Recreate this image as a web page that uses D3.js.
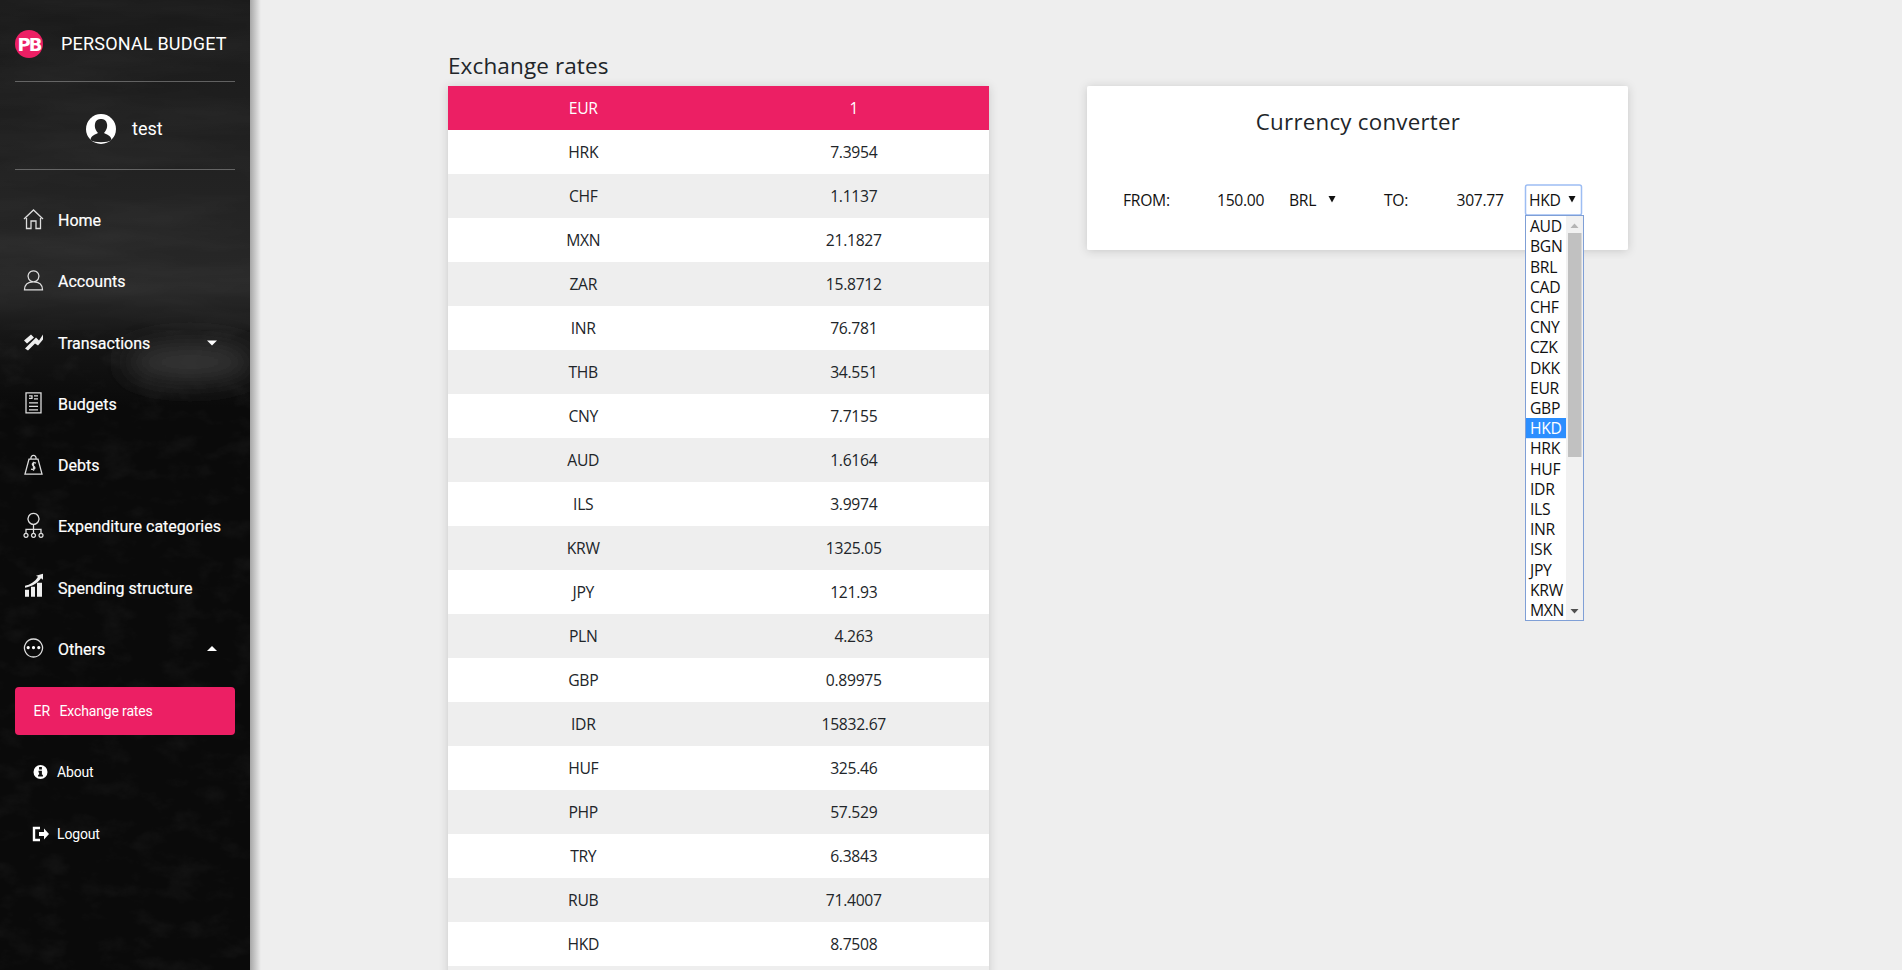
<!DOCTYPE html>
<html><head><meta charset="utf-8">
<script src="https://cdnjs.cloudflare.com/ajax/libs/d3/7.8.5/d3.min.js"></script>
<style>
html,body{margin:0;padding:0;background:#eee;overflow:hidden}
svg{display:block}
.side{font-family:Roboto,sans-serif;fill:#fff}
.main{font-family:"Open Sans",sans-serif;fill:#212529}
.t16{font-size:15.7px;letter-spacing:-.3px}
</style></head><body>
<svg id="c" width="1902" height="970"></svg>
<script>
const currencies=["EUR","HRK","CHF","MXN","ZAR","INR","THB","CNY","AUD","ILS","KRW","JPY","PLN","GBP","IDR","HUF","PHP","TRY","RUB","HKD"];
const rates=["1","7.3954","1.1137","21.1827","15.8712","76.781","34.551","7.7155","1.6164","3.9974","1325.05","121.93","4.263","0.89975","15832.67","325.46","57.529","6.3843","71.4007","8.7508"];
const options=["AUD","BGN","BRL","CAD","CHF","CNY","CZK","DKK","EUR","GBP","HKD","HRK","HUF","IDR","ILS","INR","ISK","JPY","KRW","MXN"];
const menuItems=["Home","Accounts","Transactions","Budgets","Debts","Expenditure categories","Spending structure","Others"];
const subItems=["Exchange rates","About","Logout"];
const converter={from:"FROM:",amount:"150.00",fromCur:"BRL",to:"TO:",result:"307.77",toCur:"HKD"};
const PINK="#ec1f64";

const svg=d3.select("#c");
const defs=svg.append("defs");
const grad=defs.append("linearGradient").attr("id","sb").attr("x1",0).attr("y1",0).attr("x2",0).attr("y2",1);
[[0,"#1a1a1a"],[.12,"#1f1f1f"],[.3,"#282828"],[.345,"#161616"],[.42,"#0a0a0a"],[1,"#0a0a0a"]].forEach(s=>grad.append("stop").attr("offset",s[0]).attr("stop-color",s[1]));
const sg=defs.append("linearGradient").attr("id","ss");
sg.append("stop").attr("offset",0).attr("stop-color","#000").attr("stop-opacity",.3);
sg.append("stop").attr("offset",1).attr("stop-color","#000").attr("stop-opacity",0);
const tex=defs.append("filter").attr("id","tex").attr("x",0).attr("y",0).attr("width","100%").attr("height","100%");
tex.append("feTurbulence").attr("type","fractalNoise").attr("baseFrequency","0.005 0.03").attr("numOctaves",4).attr("seed",7);
tex.append("feColorMatrix").attr("values","0 0 0 0 1  0 0 0 0 1  0 0 0 0 1  0.55 0 0 0 -0.2");
const tex2=defs.append("filter").attr("id","tex2").attr("x",0).attr("y",0).attr("width","100%").attr("height","100%");
tex2.append("feTurbulence").attr("type","fractalNoise").attr("baseFrequency","0.03 0.05").attr("numOctaves",5).attr("seed",3);
tex2.append("feColorMatrix").attr("values","0 0 0 0 1  0 0 0 0 1  0 0 0 0 1  0.6 0 0 0 -0.28");
defs.append("filter").attr("id","blur").attr("x","-50%").attr("y","-100%").attr("width","200%").attr("height","300%").append("feGaussianBlur").attr("stdDeviation",14);
const ds=defs.append("filter").attr("id","shadow").attr("x","-5%").attr("y","-5%").attr("width","110%").attr("height","110%");
ds.append("feDropShadow").attr("dx",0).attr("dy",1).attr("stdDeviation",5).attr("flood-color","#000").attr("flood-opacity",.16);
defs.append("clipPath").attr("id","sc").append("rect").attr("width",250).attr("height",970);

svg.append("rect").attr("width",1902).attr("height",970).attr("fill","#eeeeee");

/* ---------- sidebar ---------- */
const sb=svg.append("g");
sb.append("rect").attr("x",250).attr("width",11).attr("height",970).attr("fill","url(#ss)");
const bg=sb.append("g").attr("clip-path","url(#sc)");
bg.append("rect").attr("width",250).attr("height",970).attr("fill","url(#sb)");
bg.append("rect").attr("width",250).attr("height",330).attr("filter","url(#tex)").attr("opacity",.14);
bg.append("rect").attr("y",330).attr("width",250).attr("height",640).attr("filter","url(#tex2)").attr("opacity",.14);
bg.append("ellipse").attr("cx",190).attr("cy",362).attr("rx",65).attr("ry",18).attr("fill","#383838").attr("filter","url(#blur)");

const logoG=sb.append("g").attr("transform","translate(29,44)");
logoG.append("circle").attr("r",14).attr("fill",PINK);
logoG.append("text").attr("text-anchor","middle").attr("y",6.5).attr("font-family","DejaVu Sans").attr("font-size",18).attr("font-weight",700).attr("letter-spacing",-2).attr("fill","#fff").text("PB");
sb.append("text").attr("class","side").attr("x",61).attr("y",50).attr("font-size",18).attr("letter-spacing",.2).text("PERSONAL BUDGET");
sb.selectAll("line.hr").data([81,169]).join("line").attr("x1",15).attr("x2",235).attr("y1",d=>d+.5).attr("y2",d=>d+.5).attr("stroke","rgba(255,255,255,.3)");
const av=sb.append("g").attr("transform","translate(101,129)");
av.append("circle").attr("r",15).attr("fill","#fff");
av.append("path").attr("d","M-10.5,11 C-10,6 -5,5.5 -3,4 C-6,1 -6.5,-3 -6,-5 C-5.5,-9 -2.5,-10 0,-10 C2.5,-10 5.5,-9 6,-5 C6.5,-3 6,1 3,4 C5,5.5 10,6 10.5,11 C7,14 -7,14 -10.5,11Z").attr("fill","#222");
sb.append("text").attr("class","side").attr("x",132).attr("y",135).attr("font-size",18).text("test");

const menuY=d3.scalePoint().domain(menuItems).range([220,649]);
const menu=sb.selectAll("g.mi").data(menuItems).join("g").attr("class","mi").attr("transform",d=>`translate(0,${menuY(d)})`);
menu.append("text").attr("class","side").attr("x",58).attr("y",6).attr("font-size",16).attr("stroke","#fff").attr("stroke-width",.2).text(d=>d);
const icons={
 "Home":"M24,-1 L33.5,-10 L43,-1 M26.5,-2 V8.5 H31 V1 H36 V8.5 H40.5 V-2",
 "Accounts":"M33.5,-10.5 a5.5,5.5 0 1 1 -0.01,0 M24.5,8.5 C24.5,2 29,0.5 33.5,0.5 C38,0.5 42.5,2 42.5,8.5 Z",
 "Budgets":"M26,-11 H41 V9 H26 Z M29,-1 H38 M29,2.5 H38 M29,6 H38 M34,-8 H38 M34,-5 H38 M29,-8 H32 V-5.5 H29",
 "Debts":"M29,-6 H38 L42,9 H25 Z M31,-6 C30,-11 37,-11 36,-6 M36,-2 C33,-3.5 31,-1 33.5,1 C36,2.5 35,5 31,4 M33.5,-3.5 V5.5",
 "Expenditure categories":"M33.5,-13 a5.5,5.5 0 1 1 -0.01,0 M33.5,-2 V3 M26,7 V3 H41 V7 M33.5,3 V7 M26,7 a2,2 0 1 0 .01,0 M33.5,7 a2,2 0 1 0 .01,0 M41,7 a2,2 0 1 0 .01,0",
 "Others":"M33.5,-9 a9,9 0 1 1 -0.01,0"
};
menu.filter(d=>icons[d]).append("path").attr("d",d=>icons[d]).attr("transform",d=>d==="Others"?"translate(0,-1)":null).attr("fill","none").attr("stroke","#ddd").attr("stroke-width",1.3);
menu.filter(d=>d==="Others").append("path").attr("d","M28.2,-1 a1.6,1.6 0 1 0 .01,0 M33.5,-1 a1.6,1.6 0 1 0 .01,0 M38.8,-1 a1.6,1.6 0 1 0 .01,0").attr("transform","translate(0,-2)").attr("fill","#fff");
menu.filter(d=>d==="Transactions").append("path").attr("d","M24,-2 L31,-8 L34,-5 L27,1 Z M25,6 L36,-5 L39,-2 L43,-8 L43,-3 L38,3 L35,1 L28,8 Z").attr("fill","#eee");
menu.filter(d=>d==="Spending structure").append("path").attr("d","M25,2 h4 v7 h-4 Z M31,-1 h4 v10 h-4 Z M37,-5 h5 v14 h-5 Z M25,-2 C30,-3 35,-6 38,-11 L36,-12 L43,-14 L43,-8 L41,-9.5 C37,-4 31,-1 25,0 Z").attr("fill","#eee");
menu.filter(d=>d==="Transactions").append("path").attr("d","M207,-2 H217 L212,3 Z").attr("fill","#fff");
menu.filter(d=>d==="Others").append("path").attr("d","M207,2 H217 L212,-3 Z").attr("fill","#fff");

const subY=d3.scalePoint().domain(subItems).range([711,834]);
sb.append("rect").attr("x",15).attr("y",subY("Exchange rates")-24).attr("width",220).attr("height",48).attr("rx",4).attr("fill",PINK);
sb.append("text").attr("class","side").attr("x",33.5).attr("y",subY("Exchange rates")+5).attr("font-size",14).text("ER");
sb.selectAll("text.sub").data(subItems).join("text").attr("class","side sub").attr("x",d=>d==="Exchange rates"?59.5:57).attr("y",d=>subY(d)+4.5).attr("font-size",14).attr("letter-spacing",-.15).text(d=>d);
const ab=sb.append("g").attr("transform",`translate(40.5,${subY("About")-.5})`);
ab.append("circle").attr("r",7).attr("fill","#fff");
ab.append("path").attr("d","M-1.4,-5 h2.8 v2.4 h-2.8 Z M-2,-1.2 h3.4 v4 h1 v1.8 h-4.8 v-1.8 h1 v-2.2 h-.6 Z").attr("fill","#111");
const lo=sb.append("g").attr("transform",`translate(41,${subY("Logout")})`);
lo.append("path").attr("d","M-1,-6 H-7 V6 H-1").attr("fill","none").attr("stroke","#fff").attr("stroke-width",2.4);
lo.append("path").attr("d","M-2,-2 H3 V-5.5 L8,0 L3,5.5 V2 H-2 Z").attr("fill","#fff");

/* ---------- main title and table ---------- */
const ROW=44, TOP=86;
const rowIdx=d3.range(currencies.length+1);
const y=d3.scaleBand().domain(rowIdx).range([TOP,TOP+ROW*rowIdx.length]);
const x=d3.scaleBand().domain(["cur","rate"]).range([448,989]);

svg.append("text").attr("class","main").attr("x",448).attr("y",74).attr("font-size",22.5).attr("font-weight",500).attr("letter-spacing",.12).text("Exchange rates");
svg.append("rect").attr("x",448).attr("y",TOP).attr("width",x.range()[1]-448).attr("height",ROW*rowIdx.length).attr("fill","#fff").attr("filter","url(#shadow)");
svg.selectAll("rect.row").data(rowIdx).join("rect").attr("class","row")
  .attr("x",x.range()[0]).attr("width",x.range()[1]-x.range()[0]).attr("y",i=>y(i)).attr("height",y.bandwidth())
  .attr("fill",i=>i===0?PINK:(i%2?"#fff":"#eeeeee"));
const rows=svg.selectAll("g.tr").data(currencies.map((c,i)=>({c,r:rates[i],i}))).join("g").attr("class","tr").attr("transform",d=>`translate(0,${y(d.i)+y.bandwidth()/2+5.5})`);
rows.append("text").attr("class","main t16").attr("text-anchor","middle").attr("x",x("cur")+x.bandwidth()/2).style("fill",d=>d.i===0?"#fff":null).text(d=>d.c);
rows.append("text").attr("class","main t16").attr("text-anchor","middle").attr("x",x("rate")+x.bandwidth()/2).style("fill",d=>d.i===0?"#fff":null).text(d=>d.r);

/* ---------- converter card ---------- */
svg.append("rect").attr("x",1087).attr("y",86).attr("width",541).attr("height",164).attr("rx",2).attr("fill","#fff").attr("filter","url(#shadow)");
svg.append("text").attr("class","main").attr("x",1358).attr("y",130).attr("text-anchor","middle").attr("font-size",22.3).attr("font-weight",500).attr("letter-spacing",.25).text("Currency converter");
const conv=[[1123,converter.from],[1217,converter.amount],[1289,converter.fromCur],[1384,converter.to],[1456.5,converter.result]];
svg.selectAll("text.cv").data(conv).join("text").attr("class","main cv t16").attr("x",d=>d[0]).attr("y",205.5).style("fill","#111").text(d=>d[1]);
const caret=(cx,cy)=>`M${cx-3.5},${cy-3} H${cx+3.5} L${cx},${cy+3.5} Z`;
svg.append("path").attr("d",caret(1332,199)).attr("fill","#111");
svg.append("rect").attr("x",1525.5).attr("y",185).attr("width",56).attr("height",30).attr("rx",2).attr("fill","#fff").attr("stroke","#9dbdf3").attr("stroke-width",1.5);
svg.append("text").attr("class","main t16").attr("x",1529).attr("y",205.5).style("fill","#111").text(converter.toCur);
svg.append("path").attr("d",caret(1572,199)).attr("fill","#111");

/* ---------- dropdown ---------- */
const oy=d3.scaleBand().domain(options).range([216,620]);
svg.append("rect").attr("x",1525.5).attr("y",215.5).attr("width",58).attr("height",405).attr("fill","#fff").attr("stroke","#7f9fd6");
svg.append("rect").attr("x",1566).attr("y",216).attr("width",17).attr("height",404).attr("fill","#f1f1f1");
svg.append("rect").attr("x",1568).attr("y",233).attr("width",13.5).attr("height",224).attr("fill","#c1c1c1");
svg.append("path").attr("d","M1570.5,228 h8 l-4,-4.5 Z").attr("fill","#b5b5b5");
svg.append("path").attr("d","M1570.5,609 h8 l-4,4.5 Z").attr("fill","#505050");
svg.append("rect").attr("x",1526).attr("y",oy("HKD")).attr("width",40).attr("height",oy.bandwidth()).attr("fill","#2b8eff");
svg.selectAll("text.op").data(options).join("text").attr("class","main op t16").attr("x",1530).attr("y",d=>oy(d)+oy.bandwidth()/2+6).style("fill",d=>d==="HKD"?"#fff":"#111").text(d=>d);
</script>
</body></html>
